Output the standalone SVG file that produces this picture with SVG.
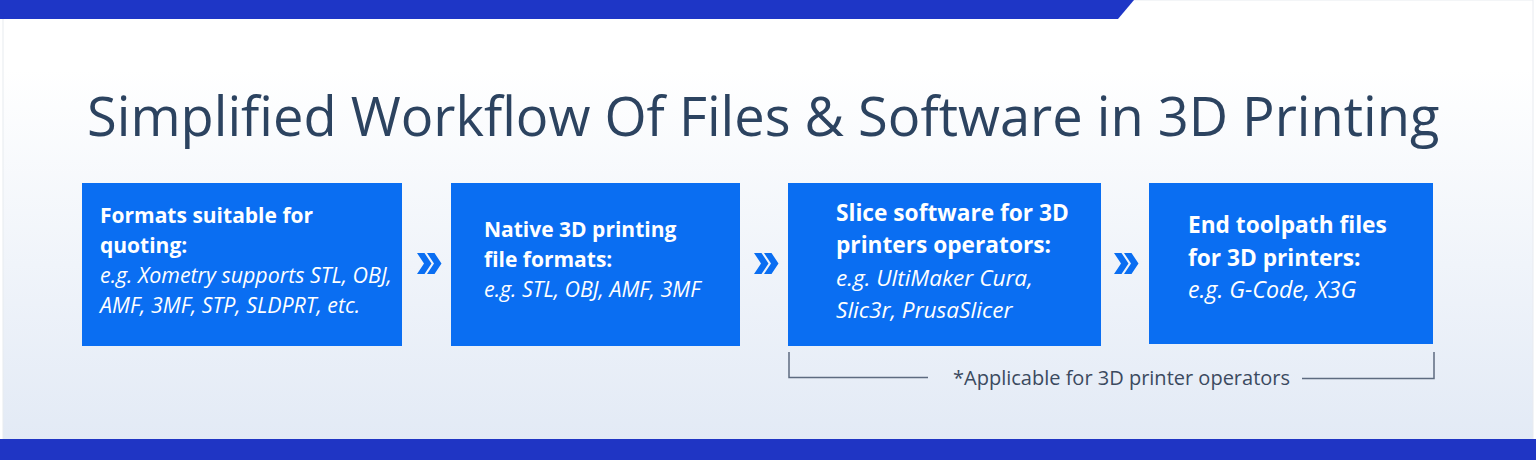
<svg xmlns="http://www.w3.org/2000/svg" width="1536" height="460" viewBox="0 0 1536 460">
  <defs>
    <linearGradient id="bg" x1="0" y1="0" x2="0" y2="1">
      <stop offset="0" stop-color="#ffffff"/>
      <stop offset="0.15" stop-color="#ffffff"/>
      <stop offset="1" stop-color="#e1e9f5"/>
    </linearGradient>
    <style>
      .box { fill: #0a6ef2; }
      .hd { font-family: "Open Sans", "Noto Sans", sans-serif; font-weight: 700; font-size: 21px; fill: #ffffff; }
      .hd2 { font-size: 22.7px; }
      .it { font-family: "Open Sans", "Noto Sans", sans-serif; font-style: italic; font-size: 21.4px; fill: #ffffff; }
      .it2 { font-size: 22.6px; }
      .it3 { font-size: 23.2px; }
      .title { font-family: "Open Sans", "Noto Sans", sans-serif; font-weight: 500; font-size: 54.2px; fill: #2c4360; }
      .note { font-family: "Open Sans", "Noto Sans", sans-serif; font-size: 20px; fill: #3b4a5f; }
      .chev { fill: #0a6ef2; }
      .br { fill: none; stroke: #5d6b80; stroke-width: 1.5; }
    </style>
  </defs>
  <rect x="0" y="0" width="1536" height="460" fill="#ffffff"/>
  <rect x="3" y="0" width="1530" height="460" fill="url(#bg)" stroke="#e8ebf0" stroke-width="1"/>
  <polygon points="0,0 1134,0 1118,19 0,19" fill="#1e36c6"/>
  <rect x="0" y="439" width="1536" height="21" fill="#1f35c4"/>

  <text class="title" x="87" y="136">Simplified Workflow Of Files &amp; Software in 3D Printing</text>

  <g id="node1">
    <rect class="box" x="82" y="183" width="320" height="163"/>
    <text class="hd" x="100" y="223">Formats suitable for</text>
    <text class="hd" x="100" y="253">quoting:</text>
    <text class="it" x="100" y="283">e.g. Xometry supports STL, OBJ,</text>
    <text class="it" x="100" y="313">AMF, 3MF, STP, SLDPRT, etc.</text>
  </g>
  <g id="node2">
    <rect class="box" x="451" y="183" width="289" height="163"/>
    <text class="hd" x="484" y="237">Native 3D printing</text>
    <text class="hd" x="484" y="267">file formats:</text>
    <text class="it" x="484" y="297">e.g. STL, OBJ, AMF, 3MF</text>
  </g>
  <g id="node3">
    <rect class="box" x="788" y="183" width="313" height="163"/>
    <text class="hd hd2" x="836" y="221">Slice software for 3D</text>
    <text class="hd hd2" x="836" y="253">printers operators:</text>
    <text class="it it2" x="836" y="286">e.g. UltiMaker Cura,</text>
    <text class="it it2" x="836" y="318">Slic3r, PrusaSlicer</text>
  </g>
  <g id="node4">
    <rect class="box" x="1149" y="183" width="284" height="161"/>
    <text class="hd hd2" x="1188" y="233">End toolpath files</text>
    <text class="hd hd2" x="1188" y="266">for 3D printers:</text>
    <text class="it it3" x="1188" y="298">e.g. G-Code, X3G</text>
  </g>

  <g id="connectors">
    <g transform="translate(417,0)">
      <polygon class="chev" points="0,253 7.5,253 14.5,263.5 7.5,274 0,274 7,263.5"/>
      <polygon class="chev" points="10,253 17.5,253 24.5,263.5 17.5,274 10,274 17,263.5"/>
    </g>
    <g transform="translate(754,0)">
      <polygon class="chev" points="0,253 7.5,253 14.5,263.5 7.5,274 0,274 7,263.5"/>
      <polygon class="chev" points="10,253 17.5,253 24.5,263.5 17.5,274 10,274 17,263.5"/>
    </g>
    <g transform="translate(1114,0)">
      <polygon class="chev" points="0,253 7.5,253 14.5,263.5 7.5,274 0,274 7,263.5"/>
      <polygon class="chev" points="10,253 17.5,253 24.5,263.5 17.5,274 10,274 17,263.5"/>
    </g>
  </g>

  <g id="note">
    <polyline class="br" points="789,352 789,377.5 928,377.5"/>
    <polyline class="br" points="1302,378.5 1434,378.5 1434,352"/>
    <text class="note" x="953" y="385">*Applicable for 3D printer operators</text>
  </g>
</svg>
